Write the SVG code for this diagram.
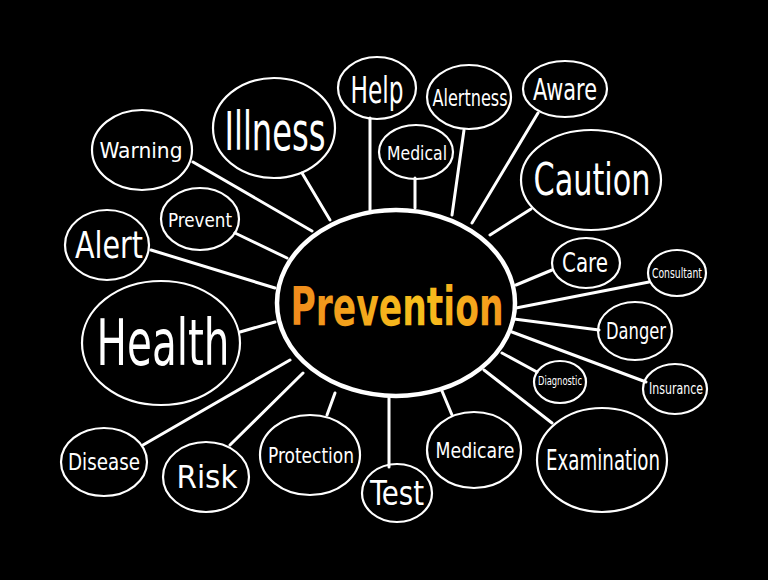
<svg xmlns="http://www.w3.org/2000/svg" width="768" height="580" viewBox="0 0 768 580">
<defs>
<linearGradient id="og" x1="0" y1="0" x2="1" y2="0">
<stop offset="0" stop-color="#f08a1c"/>
<stop offset="0.6" stop-color="#f7c01c"/>
<stop offset="1" stop-color="#f4981c"/>
</linearGradient>
</defs>
<style>
.n{fill:none;stroke:#fff;stroke-width:2.2}
.c{fill:none;stroke:#fff;stroke-width:4.5}
.l{stroke:#fff;stroke-width:3;stroke-linecap:round;fill:none}
text{font-family:"DejaVu Sans Condensed","DejaVu Sans","Liberation Sans",sans-serif;fill:#fff;text-anchor:middle}
</style>
<rect width="768" height="580" fill="#000"/>
<g id="connectors">
<line class="l" x1="193" y1="162" x2="312" y2="231"/>
<line class="l" x1="302" y1="173" x2="330" y2="220"/>
<line class="l" x1="370" y1="118" x2="370" y2="210"/>
<line class="l" x1="415" y1="178" x2="415" y2="208"/>
<line class="l" x1="464" y1="130" x2="452" y2="215"/>
<line class="l" x1="538" y1="113" x2="472" y2="223"/>
<line class="l" x1="531" y1="209" x2="490" y2="235"/>
<line class="l" x1="552" y1="270" x2="516" y2="285"/>
<line class="l" x1="649" y1="282" x2="516" y2="308"/>
<line class="l" x1="599" y1="330" x2="514" y2="319"/>
<line class="l" x1="646" y1="382" x2="512" y2="332"/>
<line class="l" x1="537" y1="372" x2="502" y2="353"/>
<line class="l" x1="552" y1="423" x2="484" y2="370"/>
<line class="l" x1="452" y1="415" x2="442" y2="391"/>
<line class="l" x1="389" y1="398" x2="389" y2="467"/>
<line class="l" x1="327" y1="415" x2="335" y2="393"/>
<line class="l" x1="230" y1="445" x2="303" y2="373"/>
<line class="l" x1="143" y1="445" x2="290" y2="360"/>
<line class="l" x1="240" y1="332" x2="275" y2="322"/>
<line class="l" x1="151" y1="250" x2="275" y2="288"/>
<line class="l" x1="235" y1="233" x2="287" y2="258"/>
</g>
<g id="center">
<ellipse class="c" cx="396" cy="303" rx="119" ry="93"/>
<text x="397" y="325" font-size="54" font-weight="bold" textLength="213" lengthAdjust="spacingAndGlyphs" style="fill:url(#og)">Prevention</text>
</g>
<g id="help"><ellipse class="n" cx="377" cy="88" rx="39" ry="31"/><text x="377" y="103" font-size="38" textLength="53" lengthAdjust="spacingAndGlyphs">Help</text></g>
<g id="alertness"><ellipse class="n" cx="469" cy="97" rx="42" ry="32"/><text x="470" y="106" font-size="23" textLength="75" lengthAdjust="spacingAndGlyphs">Alertness</text></g>
<g id="aware"><ellipse class="n" cx="565" cy="89" rx="42" ry="28"/><text x="565" y="100" font-size="31" textLength="64" lengthAdjust="spacingAndGlyphs">Aware</text></g>
<g id="medical"><ellipse class="n" cx="416" cy="152" rx="37" ry="27"/><text x="417" y="160" font-size="20" textLength="60" lengthAdjust="spacingAndGlyphs">Medical</text></g>
<g id="caution"><ellipse class="n" cx="591" cy="180" rx="70" ry="50"/><text x="592" y="195" font-size="45" textLength="117" lengthAdjust="spacingAndGlyphs">Caution</text></g>
<g id="care"><ellipse class="n" cx="586" cy="263" rx="34" ry="25"/><text x="585" y="272" font-size="26" textLength="46" lengthAdjust="spacingAndGlyphs">Care</text></g>
<g id="consultant"><ellipse class="n" cx="677" cy="273" rx="29" ry="23"/><text x="677" y="278" font-size="14" textLength="50" lengthAdjust="spacingAndGlyphs">Consultant</text></g>
<g id="danger"><ellipse class="n" cx="635" cy="331" rx="37" ry="29"/><text x="636" y="339" font-size="23" textLength="60" lengthAdjust="spacingAndGlyphs">Danger</text></g>
<g id="diagnostic"><ellipse class="n" cx="560" cy="382" rx="26" ry="21"/><text x="560" y="385" font-size="12" textLength="44" lengthAdjust="spacingAndGlyphs">Diagnostic</text></g>
<g id="insurance"><ellipse class="n" cx="675" cy="389" rx="32" ry="25"/><text x="676" y="394" font-size="15" textLength="54" lengthAdjust="spacingAndGlyphs">Insurance</text></g>
<g id="examination"><ellipse class="n" cx="602" cy="460" rx="65" ry="52"/><text x="603" y="470" font-size="29" textLength="114" lengthAdjust="spacingAndGlyphs">Examination</text></g>
<g id="medicare"><ellipse class="n" cx="474" cy="450" rx="47" ry="38"/><text x="475" y="458" font-size="22" textLength="79" lengthAdjust="spacingAndGlyphs">Medicare</text></g>
<g id="test"><ellipse class="n" cx="397" cy="493" rx="35" ry="29"/><text x="397" y="505" font-size="34" textLength="54" lengthAdjust="spacingAndGlyphs">Test</text></g>
<g id="protection"><ellipse class="n" cx="310" cy="455" rx="50" ry="40"/><text x="311" y="463" font-size="22" textLength="86" lengthAdjust="spacingAndGlyphs">Protection</text></g>
<g id="risk"><ellipse class="n" cx="206" cy="477" rx="43" ry="35"/><text x="207" y="488" font-size="32" textLength="61" lengthAdjust="spacingAndGlyphs">Risk</text></g>
<g id="disease"><ellipse class="n" cx="104" cy="462" rx="43" ry="34"/><text x="104" y="470" font-size="23" textLength="72" lengthAdjust="spacingAndGlyphs">Disease</text></g>
<g id="health"><ellipse class="n" cx="161" cy="343" rx="79" ry="62"/><text x="163" y="365" font-size="64" textLength="133" lengthAdjust="spacingAndGlyphs">Health</text></g>
<g id="alert"><ellipse class="n" cx="107" cy="245" rx="42" ry="35"/><text x="109" y="258" font-size="38" textLength="68" lengthAdjust="spacingAndGlyphs">Alert</text></g>
<g id="prevent"><ellipse class="n" cx="200" cy="219" rx="39" ry="31"/><text x="200" y="227" font-size="20" textLength="64" lengthAdjust="spacingAndGlyphs">Prevent</text></g>
<g id="warning"><ellipse class="n" cx="142" cy="150" rx="50" ry="40"/><text x="141" y="158" font-size="22" textLength="83" lengthAdjust="spacingAndGlyphs">Warning</text></g>
<g id="illness"><ellipse class="n" cx="274" cy="128" rx="61" ry="50"/><text x="275" y="150" font-size="54" textLength="101" lengthAdjust="spacingAndGlyphs">Illness</text></g>
</svg>
